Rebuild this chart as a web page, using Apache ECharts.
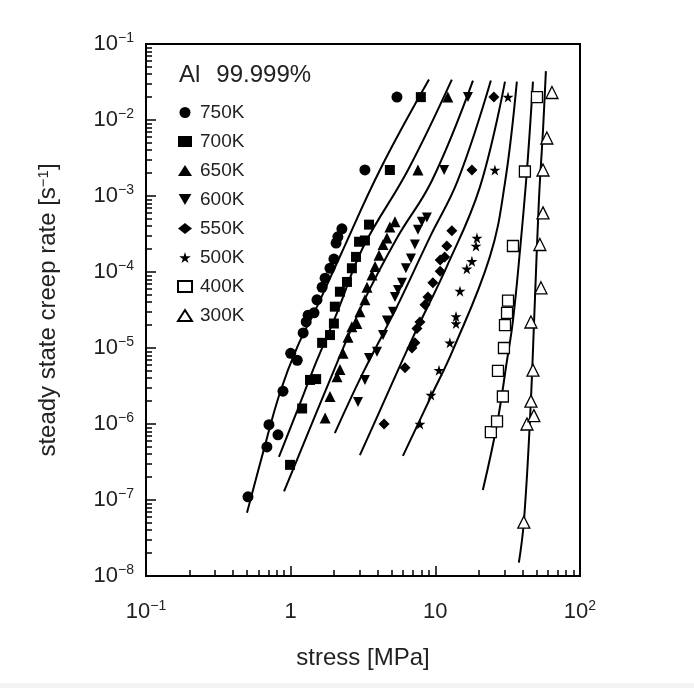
<!DOCTYPE html>
<html>
<head>
<meta charset="utf-8">
<script src="https://cdn.jsdelivr.net/npm/echarts@6/dist/echarts.min.js"></script>
<style>
html, body { margin: 0; padding: 0; background: #fff; }
#chart { width: 694px; height: 688px; }
</style>
</head>
<body>
<div id="chart"></div>
<script>
var chart = echarts.init(document.getElementById('chart'));

// legend names
var temps = ['750K', '700K', '650K', '600K', '550K', '500K', '400K', '300K'];

// measured points [stress MPa, creep rate 1/s]
var pts750 = [[0.507, 1.1e-7], [0.685, 5.0e-7], [0.708, 9.8e-7], [0.817, 7.2e-7], [0.885, 2.7e-6],
    [1.00, 8.5e-6], [1.11, 6.9e-6], [1.22, 1.58e-5], [1.28, 2.2e-5], [1.32, 2.7e-5], [1.45, 2.9e-5],
    [1.52, 4.3e-5], [1.65, 6.3e-5], [1.73, 8.3e-5], [1.87, 1.12e-4], [1.99, 1.48e-4], [2.06, 2.4e-4],
    [2.12, 2.9e-4], [2.26, 3.7e-4], [3.26, 2.2e-3], [5.43, 2.0e-2]];
var pts700 = [[0.99, 2.9e-7], [1.20, 1.6e-6], [1.36, 3.8e-6], [1.50, 3.9e-6], [1.65, 1.17e-5],
    [1.87, 1.48e-5], [1.99, 2.1e-5], [2.02, 3.5e-5], [2.19, 5.5e-5], [2.45, 7.4e-5], [2.65, 1.12e-4],
    [2.83, 1.58e-4], [2.97, 2.5e-4], [3.26, 2.6e-4], [3.48, 4.2e-4], [4.85, 2.2e-3], [7.94, 2.0e-2]];
var pts650 = [[1.73, 1.2e-6], [1.87, 2.3e-6], [2.09, 4.2e-6], [2.19, 5.2e-6], [2.30, 8.5e-6],
    [2.49, 1.38e-5], [2.65, 1.9e-5], [2.87, 2.1e-5], [3.01, 3.0e-5], [3.26, 4.3e-5], [3.37, 6.3e-5],
    [3.65, 9.1e-5], [3.83, 1.18e-4], [4.08, 1.66e-4], [4.35, 2.3e-4], [4.63, 2.8e-4], [4.85, 3.9e-4],
    [5.26, 4.6e-4], [7.58, 2.2e-3], [12.2, 2.0e-2]];
var pts600 = [[2.92, 1.95e-6], [3.26, 3.8e-6], [3.48, 7.4e-6], [3.95, 8.9e-6], [4.35, 1.48e-5],
    [4.63, 2.3e-5], [5.09, 3.0e-5], [5.26, 4.7e-5], [5.52, 5.8e-5], [5.88, 7.2e-5], [6.26, 1.12e-4],
    [6.78, 1.5e-4], [7.22, 2.3e-4], [7.58, 3.6e-4], [8.07, 4.6e-4], [8.74, 5.2e-4], [11.5, 2.2e-3],
    [16.8, 2.0e-2]];
var pts550 = [[4.42, 1.0e-6], [6.17, 5.5e-6], [6.89, 1.0e-5], [7.22, 1.17e-5], [7.46, 1.8e-5],
    [7.83, 2.2e-5], [8.48, 3.7e-5], [8.89, 4.7e-5], [9.62, 7.2e-5], [10.8, 1.02e-4], [10.8, 1.44e-4],
    [11.6, 1.58e-4], [12.0, 2.2e-4], [13.0, 3.5e-4], [17.9, 2.2e-3], [25.4, 2.0e-2]];
var pts500 = [[7.83, 1.0e-6], [9.33, 2.4e-6], [10.6, 5.1e-6], [12.6, 1.17e-5], [13.9, 2.1e-5],
    [13.9, 2.6e-5], [14.8, 5.6e-5], [16.5, 1.1e-4], [17.9, 1.38e-4], [19.1, 2.2e-4], [19.4, 2.8e-4],
    [25.8, 2.2e-3], [31.8, 2.0e-2]];
var pts400 = [[24.2, 7.8e-7], [26.7, 1.08e-6], [29.3, 2.3e-6], [27.1, 5.0e-6], [29.8, 1.0e-5],
    [30.3, 2.0e-5], [31.3, 2.9e-5], [31.8, 4.2e-5], [34.4, 2.2e-4], [41.6, 2.1e-3], [50.4, 2.0e-2]];
var pts300 = [[40.9, 5.1e-8], [43.0, 1.0e-6], [48.0, 1.29e-6], [45.8, 2.0e-6], [47.3, 5.1e-6],
    [45.8, 2.2e-5], [53.7, 6.2e-5], [52.8, 2.3e-4], [55.5, 6.0e-4], [55.5, 2.2e-3], [59.0, 5.8e-3],
    [64.0, 2.3e-2]];

// fitted curves
var fit750 = [[0.499, 6.8e-8], [0.644, 4.2e-7], [0.844, 2.6e-6], [1.11, 1.03e-5], [1.52, 3.5e-5],
    [2.19, 1.6e-4], [4.14, 2.2e-3], [9.04, 3.4e-2]];
var fit700 = [[0.830, 3.7e-7], [1.11, 1.5e-6], [1.52, 6.9e-6], [2.09, 2.9e-5], [3.16, 2.1e-4],
    [6.47, 2.2e-3], [13.0, 3.4e-2]];
var fit650 = [[0.90, 1.3e-7], [1.87, 3.8e-6], [3.16, 3.9e-5], [5.43, 2.8e-4], [9.48, 1.6e-3],
    [18.2, 3.3e-2]];
var fit600 = [[2.02, 7.6e-7], [3.16, 4.7e-6], [5.43, 3.5e-5], [9.19, 2.9e-4], [14.3, 1.6e-3],
    [24.2, 3.3e-2]];
var fit550 = [[3.01, 3.9e-7], [4.14, 1.5e-6], [7.0, 1.38e-5], [12.0, 1.18e-4], [20.3, 1.3e-3],
    [30.3, 3.2e-2]];
var fit500 = [[5.97, 3.8e-7], [9.33, 2.3e-6], [13.2, 9.3e-6], [23.8, 1.58e-4], [30.3, 1.5e-3],
    [36.6, 3.2e-2]];
var fit400 = [[21.3, 1.35e-7], [26.7, 1.0e-6], [31.3, 6.9e-6], [34.4, 2.3e-5], [38.5, 1.95e-4],
    [43.0, 2.2e-3], [47.3, 3.2e-2]];
var fit300 = [[37.8, 1.5e-8], [40.9, 5.1e-8], [45.1, 1.13e-6], [48.8, 4.3e-5], [52.0, 8.8e-4],
    [55.5, 7.4e-3], [58.1, 4.4e-2]];

var points = [pts750, pts700, pts650, pts600, pts550, pts500, pts400, pts300];
var fits = [fit750, fit700, fit650, fit600, fit550, fit500, fit400, fit300];

var starPath = 'path://M50,0 L61,35 L98,35 L68,57 L79,91 L50,70 L21,91 L32,57 L2,35 L39,35 Z';
var downTri = 'path://M0,0 L10,0 L5,8.7 Z';
var symbols = ['circle', 'rect', 'triangle', downTri, 'diamond', starPath, 'rect', 'triangle'];
var sizes = [11, 10, 11, 10, 11, 11, 11, 12];
var hollow = [false, false, false, false, false, false, true, true];

// minor tick positions 2..9 per decade
var xMinor = [];
for (var e = -1; e < 2; e++) {
    for (var m = 2; m < 10; m++) xMinor.push(+(m * Math.pow(10, e)).toPrecision(3));
}
var yMinor = [];
for (var e = -8; e < -1; e++) {
    for (var m = 2; m < 10; m++) yMinor.push(+(m * Math.pow(10, e)).toPrecision(3));
}

var font = 'Liberation Sans, Arial, sans-serif';
var rich = {
    b: { fontSize: 22, lineHeight: 26, fontFamily: font, color: '#222' },
    s: { fontSize: 14, lineHeight: 14, verticalAlign: 'top', fontFamily: font, color: '#222' }
};

function expOf(v) {
    return Math.round(Math.log10(v));
}
function supText(e) {
    return e < 0 ? '\u2212' + (-e) : '' + e;
}

var series = [];
for (var i = 0; i < fits.length; i++) {
    series.push({
        name: 'fit' + temps[i],
        type: 'line',
        data: fits[i],
        smooth: 0.4,
        showSymbol: false,
        silent: true,
        lineStyle: { color: '#000', width: 2 },
        z: 2
    });
}
for (var i = 0; i < points.length; i++) {
    series.push({
        name: temps[i],
        type: 'scatter',
        data: points[i],
        symbol: symbols[i],
        symbolSize: sizes[i],
        itemStyle: hollow[i]
            ? { color: '#fff', borderColor: '#000', borderWidth: 1.3, opacity: 1 }
            : { color: '#000', opacity: 1 },
        z: 3
    });
}

var option = {
    backgroundColor: '#fff',
    animation: false,
    title: {
        text: '{a|Al}{b|99.999%}',
        left: 174,
        top: 58,
        textStyle: {
            fontWeight: 'normal',
            rich: {
                a: { fontSize: 24, fontWeight: 'normal', color: '#222', fontFamily: font, padding: [0, 16, 0, 0] },
                b: { fontSize: 24, fontWeight: 'normal', color: '#222', fontFamily: font }
            }
        }
    },
    legend: {
        data: temps,
        orient: 'vertical',
        left: 172,
        top: 98,
        itemWidth: 14,
        itemHeight: 11,
        itemGap: 10,
        textStyle: { fontSize: 19, color: '#222', fontFamily: font, padding: [0, 0, 0, 3] }
    },
    grid: {
        left: 146,
        right: 114,
        top: 44,
        bottom: 112,
        show: true,
        borderColor: '#000',
        borderWidth: 2
    },
    xAxis: [{
        type: 'log',
        logBase: 10,
        min: 0.1,
        max: 100,
        name: 'stress [MPa]',
        nameLocation: 'middle',
        nameGap: 70,
        nameTextStyle: { fontSize: 24, color: '#222', fontFamily: font },
        axisLine: { lineStyle: { color: '#000', width: 2 } },
        axisTick: { inside: true, length: 10, lineStyle: { color: '#000', width: 1.5 } },
        axisLabel: {
            margin: 23,
            rich: rich,
            formatter: function (v) {
                var e = expOf(v);
                if (e === 0) return '{b|1}';
                if (e === 1) return '{b|10}';
                return '{b|10}{s|' + supText(e) + '}';
            }
        },
        splitLine: { show: false }
    }, {
        type: 'log',
        logBase: 10,
        min: 0.1,
        max: 100,
        position: 'bottom',
        axisLine: { show: false },
        axisLabel: { show: false },
        axisTick: { inside: true, length: 6, customValues: xMinor, lineStyle: { color: '#000', width: 1.5 } },
        splitLine: { show: false }
    }],
    yAxis: [{
        type: 'log',
        logBase: 10,
        min: 1e-8,
        max: 1e-1,
        name: 'steady state creep rate [s{s|\u22121}]',
        nameLocation: 'middle',
        nameGap: 86,
        nameTextStyle: {
            fontSize: 24,
            color: '#222',
            fontFamily: font,
            rich: {
                s: { fontSize: 15, lineHeight: 15, verticalAlign: 'top', fontFamily: font, color: '#222' }
            }
        },
        axisLine: { lineStyle: { color: '#000', width: 2 } },
        axisTick: { inside: true, length: 10, lineStyle: { color: '#000', width: 1.5 } },
        axisLabel: {
            margin: 12,
            rich: rich,
            formatter: function (v) {
                return '{b|10}{s|' + supText(expOf(v)) + '}';
            }
        },
        splitLine: { show: false }
    }, {
        type: 'log',
        logBase: 10,
        min: 1e-8,
        max: 1e-1,
        position: 'left',
        axisLine: { show: false },
        axisLabel: { show: false },
        axisTick: { inside: true, length: 6, customValues: yMinor, lineStyle: { color: '#000', width: 1.5 } },
        splitLine: { show: false }
    }],
    graphic: [{
        type: 'rect',
        shape: { x: 0, y: 683, width: 694, height: 5 },
        style: { fill: '#f3f3f3' },
        silent: true
    }],
    series: series
};

chart.setOption(option);
</script>
</body>
</html>
